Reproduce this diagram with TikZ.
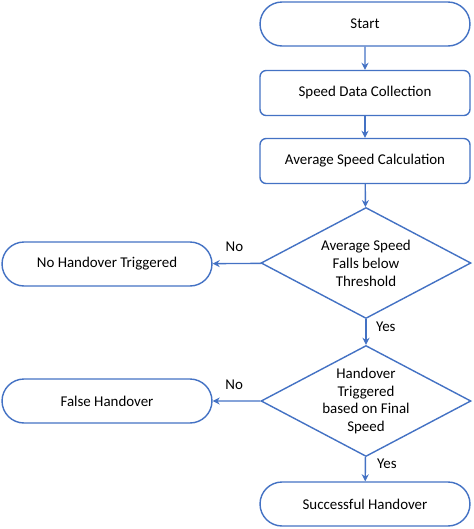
\documentclass[tikz,border=0pt]{standalone}
\usepackage{fontspec}
\setmainfont{Carlito}
\usetikzlibrary{shapes.geometric,shapes.misc,arrows.meta}
\definecolor{flowblue}{HTML}{4472C4}

\begin{document}
\begin{tikzpicture}[x=0.02cm,y=-0.02cm,
    font=\fontsize{8.5}{10.2}\selectfont,
    terminal/.style={draw=flowblue,line width=0.8pt,fill=white,rounded rectangle,
      minimum width=4.2cm,minimum height=0.88cm,inner sep=0pt},
    process/.style={draw=flowblue,line width=0.8pt,fill=white,rectangle,rounded corners=3.5pt,
      minimum width=4.2cm,minimum height=0.9cm,inner sep=0pt},
    decision/.style={draw=flowblue,line width=0.8pt,fill=white,diamond,aspect=1.9,
      minimum width=4.2cm,minimum height=2.22cm,inner sep=-8pt,align=center},
    flow/.style={draw=flowblue,line width=0.8pt,-{Stealth[length=4pt,width=4pt]}}]
  \useasboundingbox (0,0) rectangle (474,529);
  % boxes
  \node[terminal] (start) at (365,24) {Start};
  \node[process] (collect) at (365,93) {Speed Data Collection};
  \node[process] (average) at (365,161) {Average Speed Calculation};
  \node[decision] (below) at (366,263) {Average Speed\\Falls below\\Threshold};
  \node[terminal] (nohandover) at (107,264) {No Handover Triggered};
  \node[decision] (final) at (366,401) {Handover\\Triggered\\based on Final\\Speed};
  \node[terminal] (falsehandover) at (107,401) {False Handover};
  \node[terminal] (success) at (365,504) {Successful Handover};
  % arrows
  \draw[flow] (start) -- (collect);
  \draw[flow] (collect) -- (average);
  \draw[flow] (average) -- (below);
  \draw[flow] (below) -- node[above=3pt,pos=0.55]{No} (nohandover);
  \draw[flow] (below) -- node[right=2pt,pos=0.3]{Yes} (final);
  \draw[flow] (final) -- node[above=3pt,pos=0.55]{No} (falsehandover);
  \draw[flow] (final) -- node[right=3pt,pos=0.3]{Yes} (success);
\end{tikzpicture}
\end{document}
